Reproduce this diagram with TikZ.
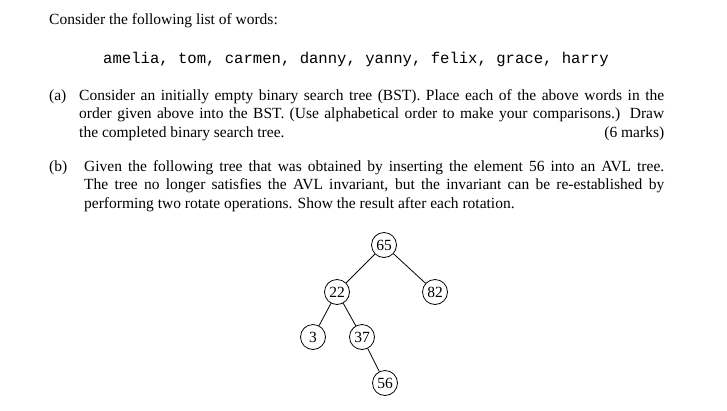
\documentclass[tikz,border=0pt]{standalone}
\usepackage{fontspec}
\setmainfont{Liberation Serif}
\setmonofont{Liberation Mono}
\begin{document}
\begin{tikzpicture}[x=1pt,y=-1pt,
  txt/.style={anchor=base west,inner sep=0pt,font=\fontsize{15.5}{18.8}\selectfont},
  par/.style={txt,anchor=north west,align=justify},
  nd/.style={circle,draw,line width=0.8pt,minimum size=25pt,inner sep=0pt,font=\fontsize{15.5}{16}\selectfont},
  ed/.style={line width=0.8pt}]
\useasboundingbox (0,0) rectangle (727,410);
\node[txt] (t1) at (49,24) {Consider the following list of words:};
\node[txt,font=\fontsize{15.6}{16}\ttfamily] (w) at (103,63) {amelia, tom, carmen, danny, yanny, felix, grace, harry};
\node[txt] (la) at (49,100) {(a)};
\node[par,text width=585pt] (pa) at (79,89) {Consider an initially empty binary search tree (BST). Place each of the above words in the\linebreak order given above into the BST. (Use alphabetical order to make your comparisons.) Draw\linebreak the completed binary search tree.\hfill(6 marks)};
\node[txt] (lb) at (49,171) {(b)};
\node[par,text width=580pt] (pb) at (84,160) {Given the following tree that was obtained by inserting the element 56 into an AVL tree.\linebreak The tree no longer satisfies the AVL invariant, but the invariant can be re-established by\linebreak performing two rotate operations. Show the result after each rotation.};
\node[nd] (n65) at (384,245) {65};
\node[nd] (n22) at (337,292) {22};
\node[nd] (n82) at (435,292) {82};
\node[nd] (n3) at (313,337) {3};
\node[nd] (n37) at (362,337) {37};
\node[nd] (n56) at (385,383) {56};
\draw[ed] (n65)--(n22); \draw[ed] (n65)--(n82);
\draw[ed] (n22)--(n3); \draw[ed] (n22)--(n37);
\draw[ed] (n37)--(n56);
\end{tikzpicture}
\end{document}
